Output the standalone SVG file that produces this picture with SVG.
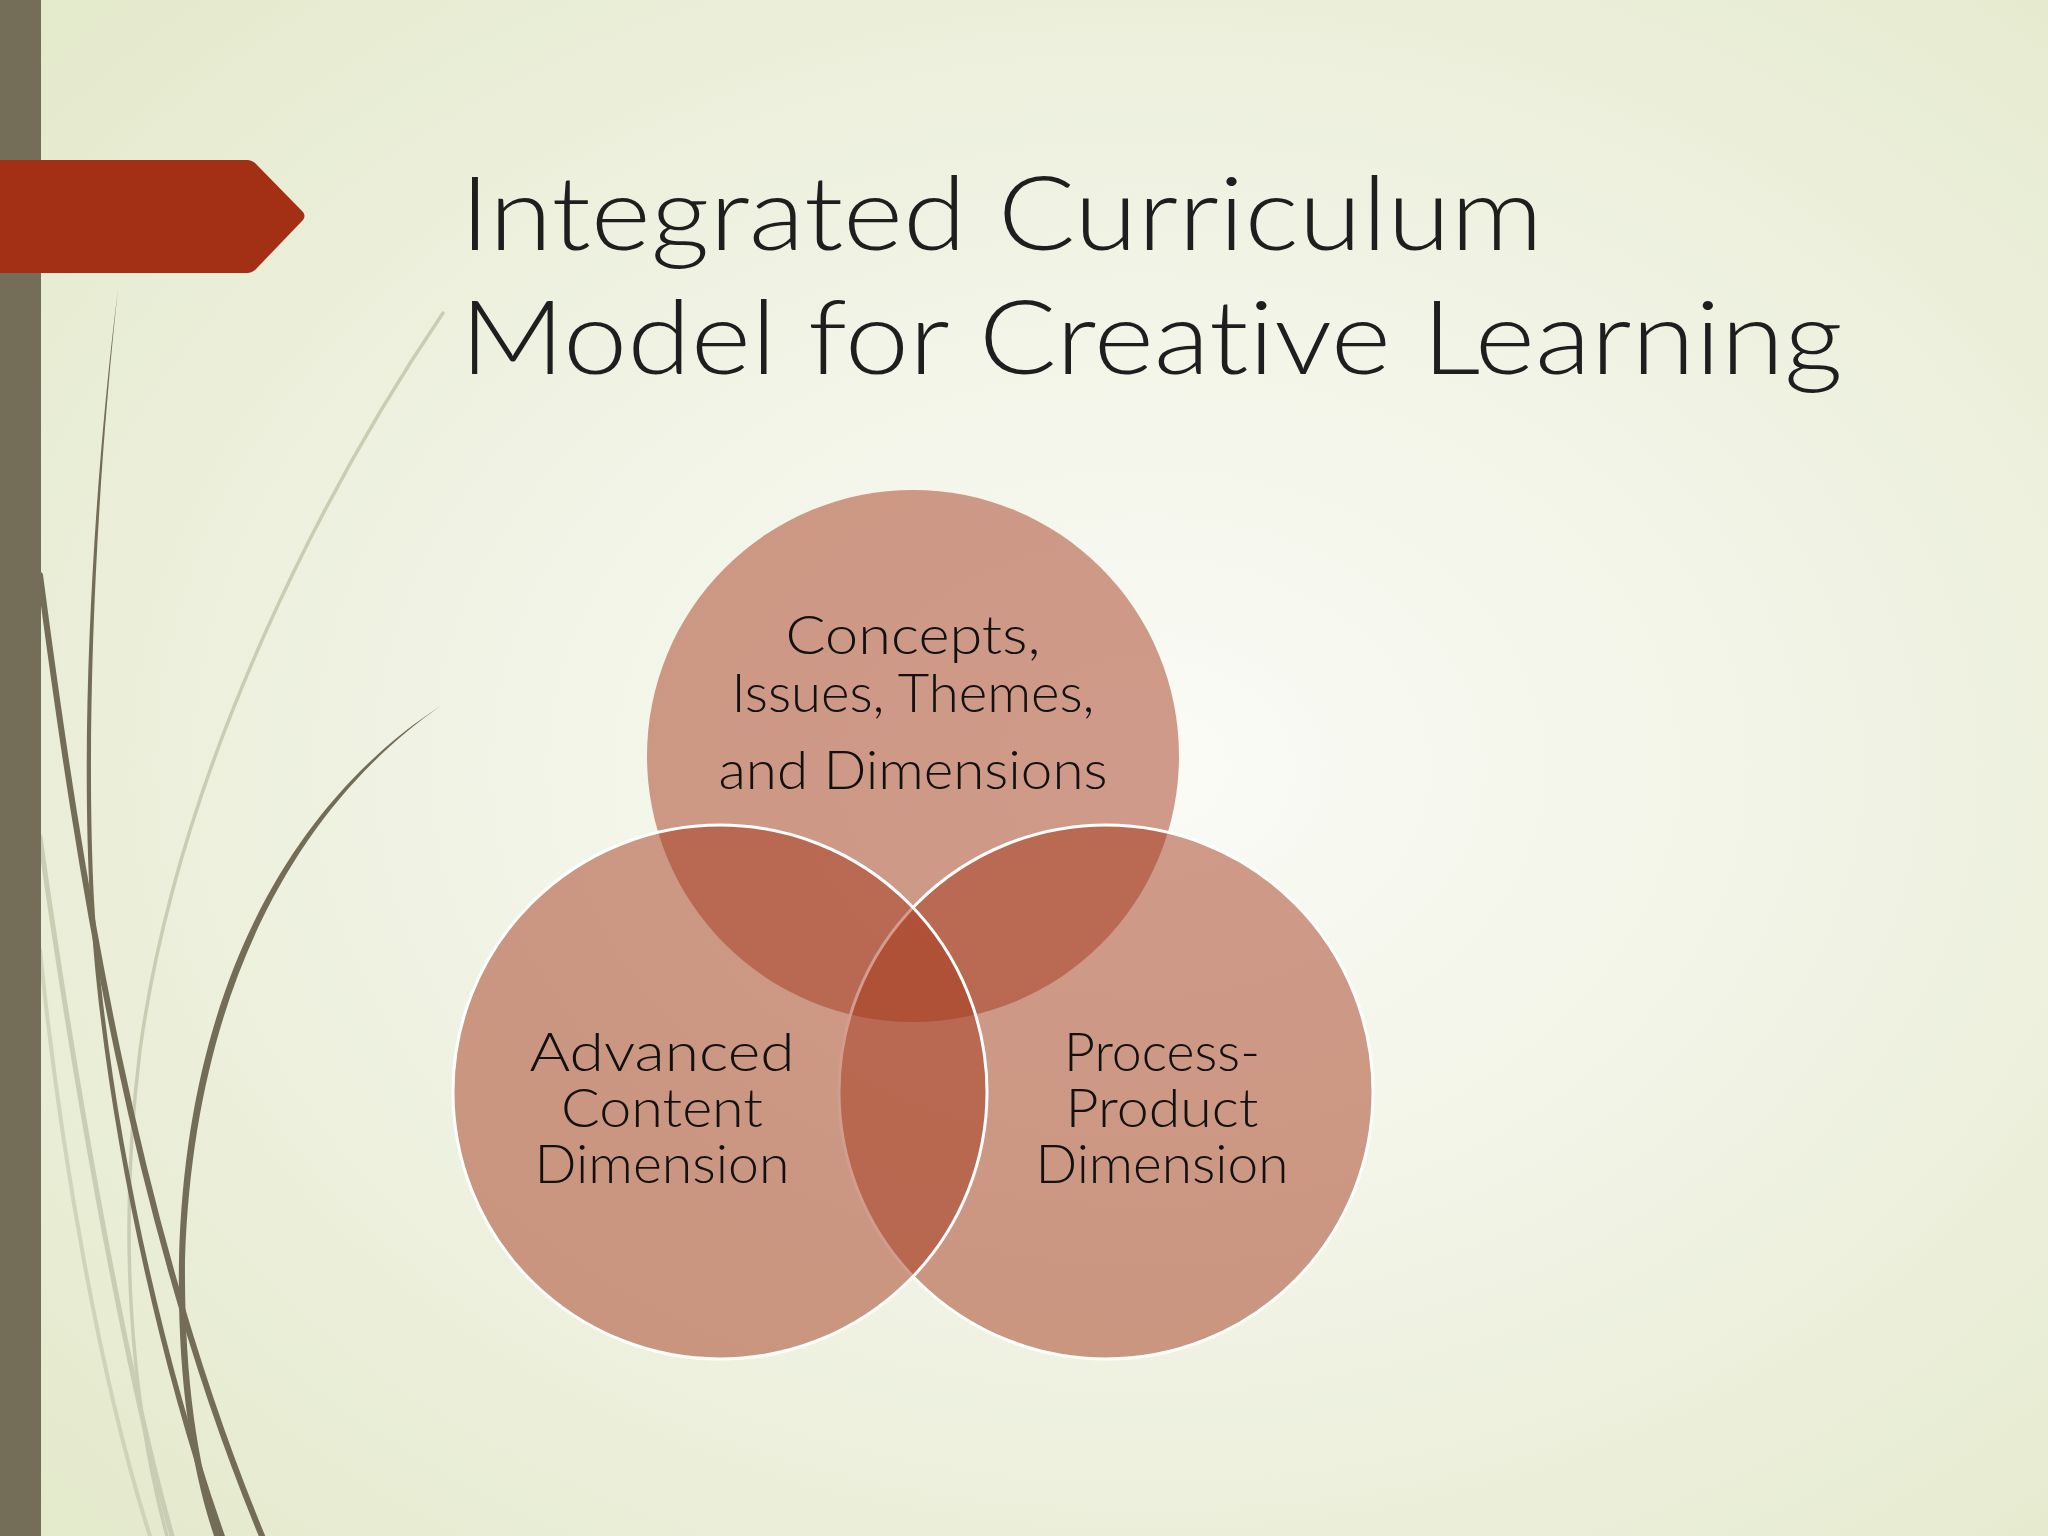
<svg xmlns="http://www.w3.org/2000/svg" width="2048" height="1536" viewBox="0 0 2048 1536">
  <defs>
    <radialGradient id="bg" cx="0.56" cy="0.5" r="0.78">
      <stop offset="0" stop-color="#FAFBF6"/>
      <stop offset="0.45" stop-color="#F0F3E4"/>
      <stop offset="1" stop-color="#E2E8C8"/>
    </radialGradient>
    <style>
      .dark { fill: none; stroke: #736C57; stroke-linecap: round; }
      .darkfill { fill: #736C57; stroke: none; }
      .faint { fill: none; stroke: #C8CDB4; stroke-linecap: round; }
      .title { font-family: Lato, "Liberation Sans", sans-serif; font-weight: 300; font-size: 102px; fill: #1E1E1E; font-variant-ligatures: none; font-feature-settings: "liga" 0, "dlig" 0; }
      .lbl { font-family: Lato, "Liberation Sans", sans-serif; font-weight: 300; font-size: 53px; fill: #111111; text-anchor: middle; font-variant-ligatures: none; font-feature-settings: "liga" 0; }
      .venn { fill: #A63A1E; fill-opacity: 0.5; }
      .ring { stroke: #FFFFFF; stroke-width: 3; }
    </style>
  </defs>

  <rect x="0" y="0" width="2048" height="1536" fill="url(#bg)"/>

  <!-- decorative grass lines -->
  <g id="decor">
    <path class="faint" stroke-width="3.5" d="M443,313 C330,480 180,760 140,1050 C118,1230 130,1400 167,1536"/>
    <path class="faint" stroke-width="5" d="M40,837 C70,1050 120,1350 172,1536"/>
    <path class="faint" stroke-width="4" opacity="0.8" d="M40,950 C60,1150 100,1380 150,1536"/>
    <path class="darkfill" d="M118,289 C94,480 80,720 90,900 C100,1082 148,1332 219,1536 L225,1536 C152,1328 104,1078 94,900 C85,720 97,480 118,289 Z"/>
    <path class="dark" stroke-width="6" d="M40,575 C80,880 135,1230 262,1536"/>
    <path class="darkfill" d="M442,705 C298,798 186,978 179,1260 C177,1380 192,1470 214,1536 L221,1536 C198,1470 184,1380 185,1260 C194,982 302,802 442,705 Z"/>
  </g>

  <rect id="sidebar" x="0" y="0" width="41" height="1536" fill="#746D58"/>

  <path id="banner" d="M0,160 L247,160 Q252,160 256,164 L303,212 Q306,216 303,220 L256,269 Q252,273 247,273 L0,273 Z" fill="#A32F14"/>

  <g id="title">
    <text class="title" x="460" y="250" textLength="1083" lengthAdjust="spacingAndGlyphs">Integrated Curriculum</text>
    <text class="title" x="460" y="374" textLength="1383" lengthAdjust="spacingAndGlyphs">Model for Creative Learning</text>
  </g>

  <g id="venn">
    <g id="node-concepts">
      <circle class="venn" cx="913" cy="756" r="266"/>
      <text class="lbl" x="913" y="654" textLength="255" lengthAdjust="spacingAndGlyphs">Concepts,</text>
      <text class="lbl" x="913" y="712" textLength="363" lengthAdjust="spacingAndGlyphs">Issues, Themes,</text>
      <text class="lbl" x="913" y="789" textLength="389" lengthAdjust="spacingAndGlyphs">and Dimensions</text>
    </g>
    <g id="node-process">
      <circle class="venn ring" cx="1106" cy="1092" r="267"/>
      <text class="lbl" x="1162" y="1071" textLength="196" lengthAdjust="spacingAndGlyphs">Process-</text>
      <text class="lbl" x="1162" y="1127" textLength="193" lengthAdjust="spacingAndGlyphs">Product</text>
      <text class="lbl" x="1162" y="1183" textLength="253" lengthAdjust="spacingAndGlyphs">Dimension</text>
    </g>
    <g id="node-content">
      <circle class="venn ring" cx="720" cy="1092" r="267"/>
      <text class="lbl" x="662" y="1071" textLength="265" lengthAdjust="spacingAndGlyphs">Advanced</text>
      <text class="lbl" x="662" y="1127" textLength="202" lengthAdjust="spacingAndGlyphs">Content</text>
      <text class="lbl" x="662" y="1183" textLength="255" lengthAdjust="spacingAndGlyphs">Dimension</text>
    </g>
  </g>
  <g id="connectors"/>
</svg>
